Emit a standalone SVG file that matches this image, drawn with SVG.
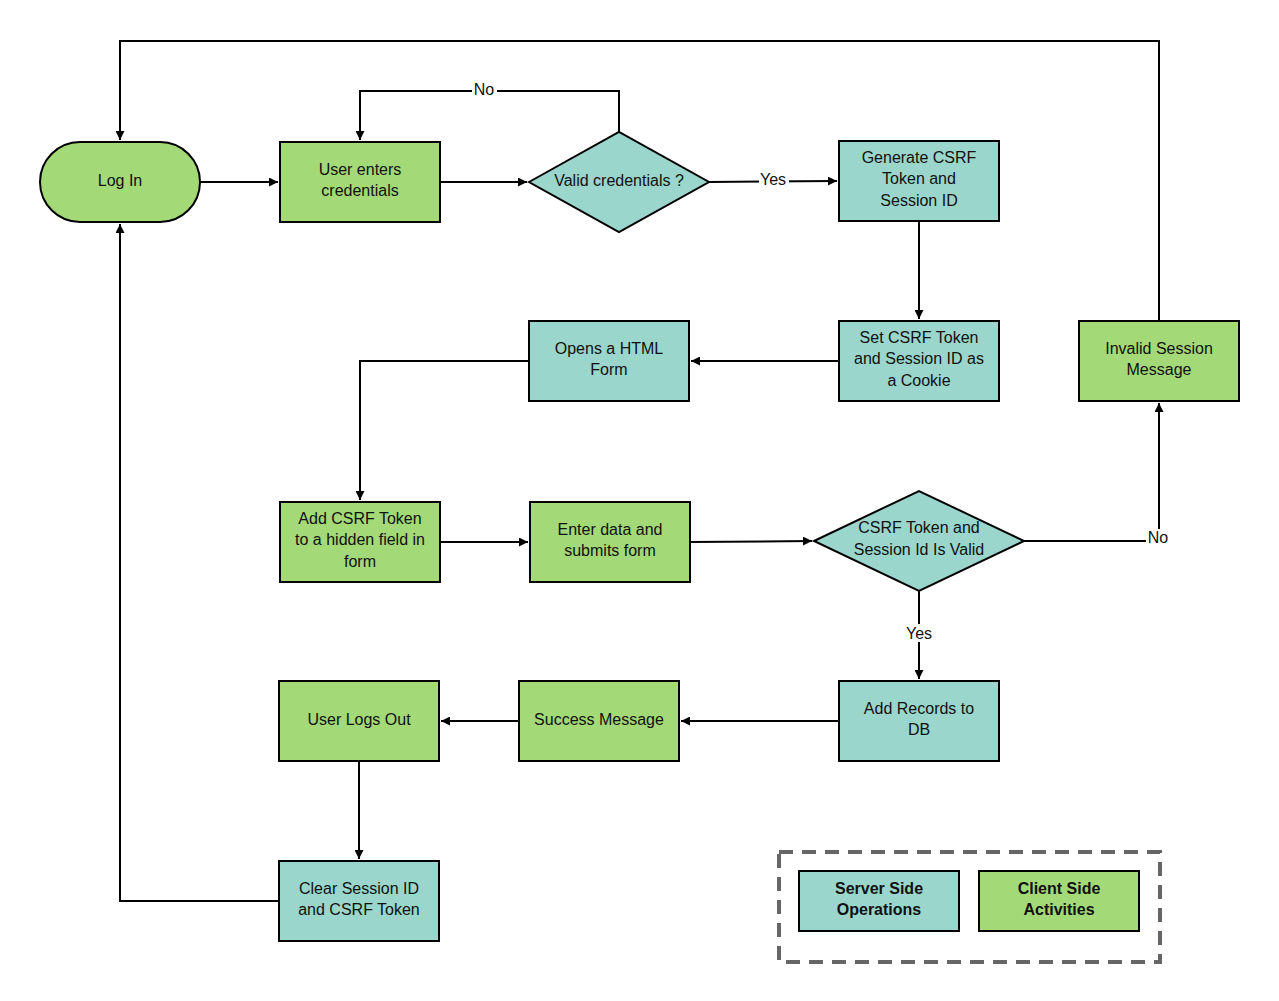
<svg xmlns="http://www.w3.org/2000/svg" width="1279" height="1001" viewBox="0 0 1279 1001">
<style>
.g{fill:#a3d977;stroke:#000;stroke-width:2}
.t{fill:#9ad6cb;stroke:#000;stroke-width:2}
text{font-family:"Liberation Sans",Arial,sans-serif;font-size:16px;fill:#111;text-anchor:middle}
.b{font-weight:bold}
.c{fill:none;stroke:#000;stroke-width:2;marker-end:url(#a)}
.lb{fill:#fff}
</style>
<defs><marker id="a" viewBox="0 0 10 10" refX="10" refY="5" markerWidth="9" markerHeight="9" markerUnits="userSpaceOnUse" orient="auto"><path d="M0,0L10,5L0,10z" fill="#000"/></marker></defs>
<rect width="1279" height="1001" fill="#fff"/>
<g id="connectors">
<path class="c" d="M200,182H278"/>
<path class="c" d="M440,182H527"/>
<path class="c" d="M619,132V91H360V140"/>
<path class="c" d="M709,182L837,181"/>
<path class="c" d="M919,221V319"/>
<path class="c" d="M839,361H691"/>
<path class="c" d="M529,361H360V500"/>
<path class="c" d="M440,542H528"/>
<path class="c" d="M690,542L812,541"/>
<path class="c" d="M1024,541H1159V403"/>
<path class="c" d="M1159,321V41H120V140"/>
<path class="c" d="M919,591V679"/>
<path class="c" d="M839,721H681"/>
<path class="c" d="M519,721H441"/>
<path class="c" d="M359,761V859"/>
<path class="c" d="M279,901H120V224"/>
<rect class="lb" x="472" y="80" width="25" height="18"/><text x="484" y="95">No</text>
<rect class="lb" x="759" y="171" width="30" height="18"/><text x="773" y="185">Yes</text>
<rect class="lb" x="1146" y="529" width="26" height="18"/><text x="1158" y="543">No</text>
<rect class="lb" x="903" y="624" width="32" height="18"/><text x="919" y="639">Yes</text>
</g>
<g id="login"><rect class="g" x="40" y="142" width="160" height="80" rx="40"/><text x="120" y="186">Log In</text></g>
<g id="user"><rect class="g" x="280" y="142" width="160" height="80"/><text x="360" y="175">User enters</text><text x="360" y="196">credentials</text></g>
<g id="valid"><polygon class="t" points="529,182 619,132 709,182 619,232"/><text x="619" y="186">Valid credentials ?</text></g>
<g id="gen"><rect class="t" x="839" y="141" width="160" height="80"/><text x="919" y="163">Generate CSRF</text><text x="919" y="184">Token and</text><text x="919" y="206">Session ID</text></g>
<g id="set"><rect class="t" x="839" y="321" width="160" height="80"/><text x="919" y="343">Set CSRF Token</text><text x="919" y="364">and Session ID as</text><text x="919" y="386">a Cookie</text></g>
<g id="opens"><rect class="t" x="529" y="321" width="160" height="80"/><text x="609" y="354">Opens a HTML</text><text x="609" y="375">Form</text></g>
<g id="invalid"><rect class="g" x="1079" y="321" width="160" height="80"/><text x="1159" y="354">Invalid Session</text><text x="1159" y="375">Message</text></g>
<g id="addcsrf"><rect class="g" x="280" y="502" width="160" height="80"/><text x="360" y="524">Add CSRF Token</text><text x="360" y="545">to a hidden field in</text><text x="360" y="567">form</text></g>
<g id="enter"><rect class="g" x="530" y="502" width="160" height="80"/><text x="610" y="535">Enter data and</text><text x="610" y="556">submits form</text></g>
<g id="csrfvalid"><polygon class="t" points="814,541 919,491 1024,541 919,591"/><text x="919" y="533">CSRF Token and</text><text x="919" y="555">Session Id Is Valid</text></g>
<g id="records"><rect class="t" x="839" y="681" width="160" height="80"/><text x="919" y="714">Add Records to</text><text x="919" y="735">DB</text></g>
<g id="success"><rect class="g" x="519" y="681" width="160" height="80"/><text x="599" y="725">Success Message</text></g>
<g id="logout"><rect class="g" x="279" y="681" width="160" height="80"/><text x="359" y="725">User Logs Out</text></g>
<g id="clear"><rect class="t" x="279" y="861" width="160" height="80"/><text x="359" y="894">Clear Session ID</text><text x="359" y="915">and CSRF Token</text></g>
<g id="legend"><rect x="779" y="852" width="381" height="110" fill="none" stroke="#666" stroke-width="4" stroke-dasharray="14,9"/>
<rect class="t" x="799" y="871" width="160" height="60"/><text class="b" x="879" y="894">Server Side</text><text class="b" x="879" y="915">Operations</text>
<rect class="g" x="979" y="871" width="160" height="60"/><text class="b" x="1059" y="894">Client Side</text><text class="b" x="1059" y="915">Activities</text></g>
</svg>
